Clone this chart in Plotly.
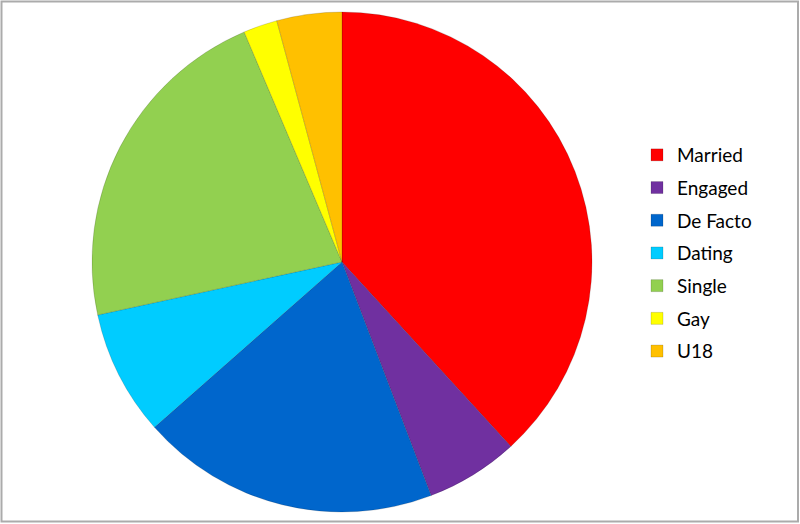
import plotly.graph_objects as go

# Relationship status breakdown (shares, in %).
labels = ["Married", "Engaged", "De Facto", "Dating", "Single", "Gay", "U18"]
shares = [38.2, 6.0, 19.3, 8.1, 22.0, 2.2, 4.2]
colors = ["#FF0000", "#7030A0", "#0066CC", "#00CCFF", "#92D050", "#FFFF00", "#FFC000"]

fig = go.Figure()

# The pie itself, going clockwise from 12 o'clock.
fig.add_trace(go.Pie(
    labels=labels,
    values=shares,
    sort=False,
    direction="clockwise",
    rotation=0,
    textinfo="none",
    hoverinfo="label+percent",
    marker=dict(colors=colors, line=dict(color="rgba(0,0,0,0.25)", width=0.6)),
    domain=dict(x=[92 / 800, 592 / 800], y=[12 / 524, 512 / 524]),
    showlegend=False,
))

# Legend entries, one group each so the rows get spaced out like the original.
for label, color in zip(labels, colors):
    fig.add_trace(go.Scatter(
        x=[None], y=[None],
        mode="markers",
        name=label,
        legendgroup=label,
        marker=dict(symbol="square", size=12, color=color,
                    line=dict(color="rgba(0,0,0,0.3)", width=0.5)),
        hoverinfo="skip",
    ))

fig.update_layout(
    width=800,
    height=524,
    margin=dict(l=0, r=0, t=0, b=0),
    paper_bgcolor="white",
    plot_bgcolor="white",
    xaxis=dict(visible=False),
    yaxis=dict(visible=False),
    font=dict(family="Lato, Open Sans, sans-serif", size=19, color="#000000"),
    legend=dict(
        x=637 / 800, xanchor="left",
        y=1 - 253 / 524, yanchor="middle",
        tracegroupgap=5,
        bgcolor="rgba(0,0,0,0)",
        font=dict(size=19),
    ),
    shapes=[dict(
        type="rect", xref="paper", yref="paper",
        x0=1.5 / 800, x1=1 - 2 / 800, y0=2.5 / 524, y1=1 - 1.5 / 524,
        line=dict(color="#ABABAB", width=2),
    )],
)

# Drop the page's default body margin so the 800x524 figure fills the window.
fig.write_html("out.html", config={"displayModeBar": False},
               post_script="document.body.style.margin='0';")
